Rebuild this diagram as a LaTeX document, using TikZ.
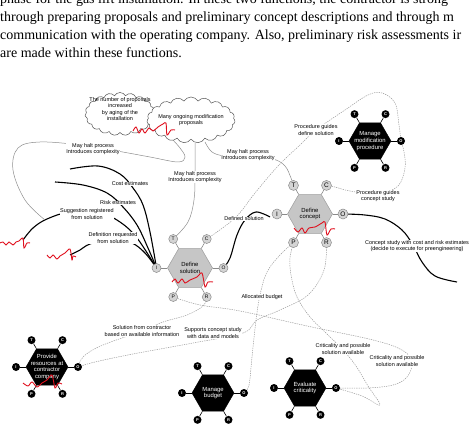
\documentclass[tikz,border=0pt]{standalone}
\usepackage{fontspec}
\setmainfont{Liberation Sans}
\newfontfamily\bodyserif{Liberation Serif}
\usetikzlibrary{shapes.geometric,shapes.symbols,calc}
\pgfdeclarelayer{bg}
\pgfsetlayers{bg,main}
\definecolor{hexfill}{HTML}{C6C6C6}
\definecolor{hexline}{HTML}{9C9C9C}
\definecolor{portfill}{HTML}{D4D4D4}
\definecolor{portline}{HTML}{8A8A8A}
\definecolor{thincol}{HTML}{8E8E8E}
\definecolor{dashcol}{HTML}{9A9A9A}
\definecolor{cloudcol}{HTML}{555555}
\definecolor{squig}{HTML}{E0101E}
\tikzset{
 hexg/.style={regular polygon, regular polygon sides=6, minimum size=45pt, inner sep=0pt, fill=hexfill, draw=hexline, line width=0.5pt},
 hexb/.style={regular polygon, regular polygon sides=6, minimum size=42pt, inner sep=0pt, fill=black, draw=black},
 hextxt/.style={font=\fontsize{5.9}{6.7}\selectfont, align=center, inner sep=0pt},
 portg/.style={circle, fill=portfill, draw=portline, line width=0.5pt, minimum size=9pt, inner sep=0pt, font=\fontsize{5}{5}\selectfont},
 portgl/.style={portg, minimum size=10pt, font=\fontsize{6.5}{6.5}\selectfont},
 portb/.style={circle, fill=black, minimum size=8pt, inner sep=0pt, text=white, font=\fontsize{4}{4}\selectfont\bfseries},
 spokeg/.style={draw=portline, line width=0.6pt},
 spokeb/.style={draw=black, line width=0.6pt},
 blk/.style={draw=black, line width=1.1pt},
 thinl/.style={draw=thincol, line width=0.5pt},
 dsh/.style={draw=dashcol, line width=0.5pt, dash pattern=on 1.3pt off 1pt},
 lbl/.style={font=\fontsize{5.5}{6.4}\selectfont, align=center, fill=white, inner sep=0.4pt},
 squ/.style={draw=squig, line width=0.9pt},
 cloudy/.style={cloud, draw=cloudcol, fill=white, line width=0.5pt, cloud puffs=19, cloud puff arc=120, inner sep=0pt},
 bodytext/.style={anchor=base west, inner sep=0pt, font=\bodyserif\fontsize{14}{18}\selectfont},
}
\newcommand{\portset}[4]{%
  \foreach \a/\l in {120/T,60/C,180/I,0/O,240/P,300/R}{
    \node[#2] (#1\l) at ($(#1)+(\a:#4pt)$) {\l};
    \draw[#3] (#1.\a) -- (#1\l);
  }}
\begin{document}
\begin{tikzpicture}[x=1pt,y=-1pt]
\useasboundingbox (0,0) rectangle (474,430);
\clip (0,0) rectangle (474,430);

% paragraph text
\node[bodytext] (p1) at (0,3.5) {phase for the gas lift installation. In these two functions, the contractor is strong};
\node[bodytext] (p2) at (0,22) {through preparing proposals and preliminary concept descriptions and through m};
\node[bodytext] (p3) at (0,40) {communication with the operating company. Also, preliminary risk assessments ir};
\node[bodytext] (p4) at (0,58) {are made within these functions.};

% clouds
\node[cloudy, minimum width=70pt, minimum height=43pt] (cl1) at (120,114) {};
\node[lbl, fill=none] (cl1t) at (120,109) {The number of proposals\\increased\\by aging of the\\installation};
\node[cloudy, minimum width=88pt, minimum height=46pt] (cl2) at (191,120) {};
\node[lbl, fill=none] (cl2t) at (191,120) {Many ongoing modification\\proposals};

% hexagons
\node[hexg] (dc) at (310,214) {};
\node[hextxt] (dct) at (dc) {Define\\concept};
\portset{dc}{portgl}{spokeg}{33}
\node[hexg] (ds) at (190,268) {};
\node[hextxt] (dst) at (ds) {Define\\solution};
\portset{ds}{portg}{spokeg}{33.5}
\node[hexb] (mm) at (370,141) {};
\node[hextxt, text=white] (mmt) at (mm) {Manage\\modification\\procedure};
\portset{mm}{portb}{spokeb}{31}
\node[hexb] (pc) at (47,367) {};
\node[hextxt, text=white] (pct) at (pc) {Provide\\resources at\\contractor\\company};
\portset{pc}{portb}{spokeb}{31}
\node[hexb] (mb) at (213,393) {};
\node[hextxt, text=white] (mbt) at (mb) {Manage\\budget};
\portset{mb}{portb}{spokeb}{31}
\node[hexb] (ec) at (305,388) {};
\node[hextxt, text=white] (ect) at (ec) {Evaluate\\criticality};
\portset{ec}{portb}{spokeb}{31}

% free ends
\coordinate (e1) at (70,169);
\coordinate (e2) at (55,182);
\coordinate (e3) at (23,240);
\coordinate (e4) at (70,255);
\coordinate (e5) at (457,282);
\coordinate (e6) at (270,217);
\coordinate (e7) at (45,220);

\begin{pgfonlayer}{bg}
% black connectors
\draw[blk] plot[smooth, tension=0.6] coordinates {(e1) (98,166) (120,174) (133,188) (143,205) (150,232) (dsI)};
\draw[blk] plot[smooth, tension=0.6] coordinates {(e2) (83,185) (107,193) (123,207) (137,225) (148,248) (dsI)};
\draw[blk] plot[smooth, tension=0.6] coordinates {(e3) (33,228) (47,219) (70,212) (100,213) (120,222) (137,238) (dsI)};
\draw[blk] plot[smooth, tension=0.6] coordinates {(e4) (80,250) (90,244) (113,238) (132,243) (145,253) (dsI)};
\draw[blk] plot[smooth, tension=0.6] coordinates {(dcO) (365,215) (385,219) (402,230) (413,245) (422,262) (435,276) (e5)};
\draw[blk] plot[smooth, tension=0.6] coordinates {(dsO) (230,258) (237,235) (245,220) (256,212) (e6)};
% thin grey connectors
\draw[thinl] plot[smooth, tension=0.6] coordinates {(172,139) (180,148) (185,157) (178,162) (150,157) (117,151) (80,145) (40,142) (18,148) (13,170) (25,200) (e7)};
\draw[thinl] plot[smooth, tension=0.6] coordinates {(195,143) (195,175) (194,200) (188,222) (dsT)};
\draw[thinl] plot[smooth, tension=0.6] coordinates {(205,142) (212,152) (225,156) (248,156) (273,159) (285,166) (291,178) (dcT)};
% dashed connectors
\draw[dsh] plot[smooth, tension=0.6] coordinates {(mmO) (399,125) (395,103) (382,93) (368,95) (345,110) (316,130) (300,145) (278,166) (255,193) (235,218) (dsC)};
\draw[dsh] plot[smooth, tension=0.6] coordinates {(mmO) (404,152) (405,168) (398,186) (378,194) (350,191) (335,187) (dcC)};
\draw[dsh] plot[smooth, tension=0.6] coordinates {(mbO) (249,385) (252,357) (256,320) (260,295) (267,272) (280,255) (dcP)};
\draw[dsh] plot[smooth, tension=0.6] coordinates {(dcR) (324,270) (308,295) (280,310) (257,320) (243,333) (193,343) (133,354) (95,362) (pcO)};
\draw[dsh] plot[smooth, tension=0.6] coordinates {(pcO) (84,356) (103,345) (142,331) (163,322) (187,315) (203,306) (dsR)};
\draw[dsh] plot[smooth, tension=0.6] coordinates {(dsP) (200,305) (240,311) (307,326) (373,340) (402,350) (412,362) (407,377) (393,385) (367,388) (ecO)};
\draw[dsh] plot[smooth, tension=0.6] coordinates {(dcP) (290,258) (291,275) (297,297) (310,317) (325,332) (343,350) (356,366) (368,386) (380,405) (362,396) (ecO)};
\end{pgfonlayer}

% red squiggles
\draw[squ] plot[smooth, tension=0.5] coordinates {(133,131) (136,127) (139,133) (142,129) (145,133) (149,128) (153,131) (158,127) (163,124) (166,123) (167,135) (171,130) (175,130)};
\draw[squ] plot[smooth, tension=0.5] coordinates {(294,228) (298,232) (302,228) (305,233) (309,228) (315,227) (322,223) (325,222) (327,235) (331,229) (335,229)};
\draw[squ] plot[smooth, tension=0.5] coordinates {(172,282) (175,279) (178,283) (182,279) (185,283) (190,280) (197,277) (202,273) (205,287) (208,282) (213,282)};
\draw[squ] plot[smooth, tension=0.5] coordinates {(23,383) (28,386) (32,382) (37,387) (42,383) (47,380) (52,375) (55,388) (58,383) (62,384)};
\draw[squ] plot[smooth, tension=0.5] coordinates {(0,243) (3,242) (6,245) (9,242) (13,245) (16,242) (19,241) (23,238) (24,248) (27,243) (30,243)};
\draw[squ] plot[smooth, tension=0.5] coordinates {(47,255) (50,258) (53,255) (57,259) (60,256) (65,253) (70,249) (72,260) (73,256) (76,257)};

% labels
\node[lbl] (l1) at (93,149) {May halt process\\Introduces complexity};
\node[lbl] (l2) at (195,177) {May halt process\\Introduces complexity};
\node[lbl] (l3) at (248,155) {May halt process\\Introduces complexity};
\node[lbl] (l4) at (130,184) {Cost estimates};
\node[lbl] (l5) at (118,203) {Risk estimates};
\node[lbl] (l6) at (87,214) {Suggestion registered\\from solution};
\node[lbl] (l7) at (113,238) {Definition requested\\from solution};
\node[lbl] (l8) at (244,219) {Defined solution};
\node[lbl] (l9) at (316,130) {Procedure guides\\define solution};
\node[lbl] (l10) at (378,196) {Procedure guides\\concept study};
\node[lbl] (l11) at (417,246) {Concept study with cost and risk estimates\\(decide to execute for preengineering)};
\node[lbl] (l12) at (262,297) {Allocated budget};
\node[lbl] (l13) at (142,331) {Solution from contractor\\based on available information};
\node[lbl] (l14) at (213,333) {Supports concept study\\with data and models};
\node[lbl] (l15) at (343,349) {Criticality and possible\\solution available};
\node[lbl] (l16) at (397,361) {Criticality and possible\\solution available};
\end{tikzpicture}
\end{document}
